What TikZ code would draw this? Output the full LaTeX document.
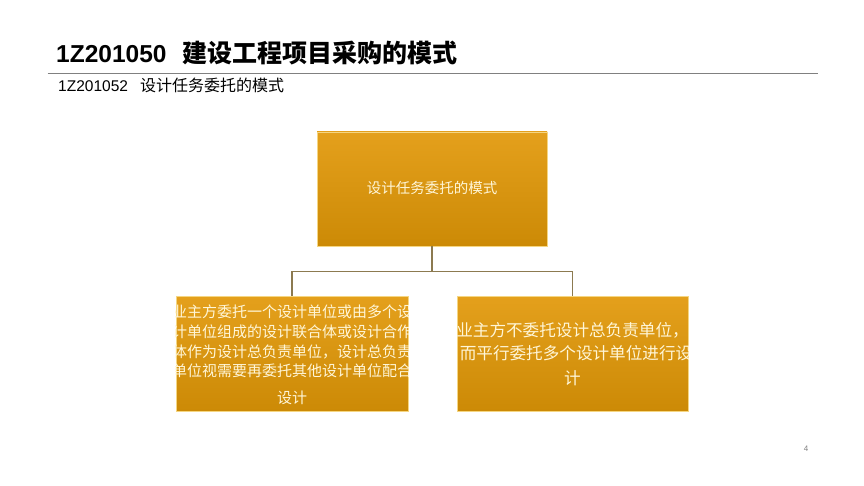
\documentclass[tikz,border=0pt]{standalone}
\usepackage{fontspec}
\setmainfont{Liberation Sans}
\newfontfamily\cjk{Noto Sans CJK SC}
\usetikzlibrary{calc}
\definecolor{goldtop}{RGB}{228,160,28}
\definecolor{goldbot}{RGB}{204,138,6}
\definecolor{goldedge}{RGB}{245,214,130}
\definecolor{creamtext}{RGB}{255,246,215}
\definecolor{connline}{RGB}{140,122,80}
\definecolor{ruleline}{RGB}{128,128,128}
\tikzset{
  goldbox/.style={draw=goldedge, line width=0.9pt, top color=goldtop, bottom color=goldbot, minimum width=#1, minimum height=115pt, inner sep=0pt},
  boxtext/.style={text=creamtext, font=\cjk\fontsize{#1}{#1}\selectfont, inner sep=0pt, anchor=center},
  conn/.style={draw=connline, line width=1.1pt},
}
\begin{document}
\begin{tikzpicture}[x=1pt,y=-1pt]
\useasboundingbox[fill=white] (0,0) rectangle (864,486);
% titles
\node[anchor=base west, inner sep=0pt, font=\fontsize{24.5}{24.5}\selectfont\bfseries] (tnum) at (56,63) {1Z201050};
\node[anchor=base west, inner sep=0pt, font=\cjk\fontsize{25}{25}\selectfont\bfseries] (ttxt) at (182,63) {建设工程项目采购的模式};
\draw[ruleline, line width=1.3pt] (47.5,73.3) coordinate (rl) -- (818,73.3) coordinate (rr);
\node[anchor=base west, inner sep=0pt, font=\fontsize{15.5}{15.5}\selectfont] (snum) at (58,92) {1Z201052};
\node[anchor=base west, inner sep=0pt, font=\cjk\fontsize{16}{16}\selectfont] (stxt) at (140,92) {设计任务委托的模式};
\node[anchor=center, inner sep=0pt, text=gray, font=\fontsize{8}{8}\selectfont] (pg) at (806,449) {4};
% boxes
\node[goldbox=230pt, minimum height=114pt] (top) at (432,189) {};
\node[goldbox=232pt] (left) at (292,353.5) {};
\node[goldbox=231pt] (right) at (572.5,353.5) {};
% connectors
\draw[conn] (top.south) -- ($(top.south)+(0,25)$) -| (left.north);
\draw[conn] (top.south) -- ($(top.south)+(0,25)$) -| (right.north);
% texts
\node[boxtext=14.5] (toptxt) at (432,188) {设计任务委托的模式};
\begin{scope}
\clip (left.south west) rectangle (left.north east);
\node[boxtext=15] (l1) at (292,311.7) {业主方委托一个设计单位或由多个设};
\node[boxtext=15] (l2) at (292,331.7) {计单位组成的设计联合体或设计合作};
\node[boxtext=15] (l3) at (292,351.7) {体作为设计总负责单位，设计总负责};
\node[boxtext=15] (l4) at (292,371) {单位视需要再委托其他设计单位配合};
\node[boxtext=15] (l5) at (292,398) {设计};
\end{scope}
\begin{scope}
\clip (right.south west) rectangle (right.north east);
\node[boxtext=16.6] (r1) at (572.5,330) {业主方不委托设计总负责单位，};
\node[boxtext=16.6] (r2) at (576,353.5) {而平行委托多个设计单位进行设};
\node[boxtext=16.6] (r3) at (572.5,378) {计};
\end{scope}
\end{tikzpicture}
\end{document}
